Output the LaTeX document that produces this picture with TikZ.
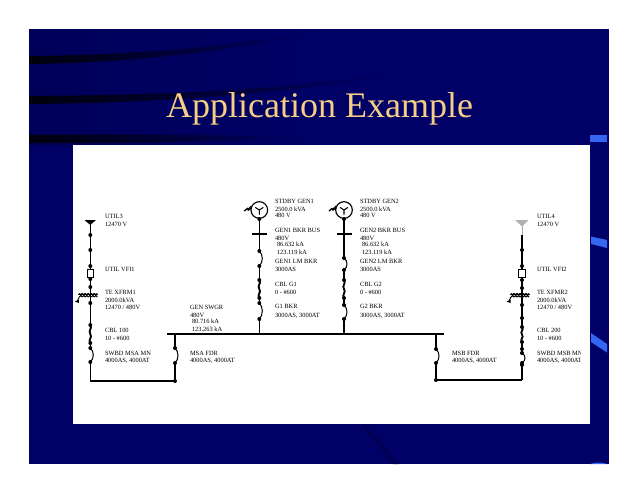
\documentclass[tikz,border=0pt]{standalone}
\usepackage{fontspec}
\usetikzlibrary{calc}
\setmainfont{Liberation Serif}
\definecolor{slidenavy}{HTML}{000066}
\definecolor{slideleft}{HTML}{00005A}
\definecolor{slideblack}{HTML}{00000C}
\definecolor{slidemid}{HTML}{00002E}
\definecolor{titlegold}{HTML}{F6CE84}
\definecolor{accentblue}{HTML}{3566F0}
\tikzset{
  lbl/.style={anchor=west,inner sep=0pt,outer sep=0pt,text=black,font=\fontsize{4.8}{5}\selectfont},
  jn/.style={circle,fill=black,inner sep=0pt,minimum size=3pt},
  wire/.style={line width=0.95pt,black},
  busbar/.style={line width=0.85pt,black},
  vfibox/.style={draw=black,fill=white,line width=0.65pt,minimum width=5pt,minimum height=6pt,inner sep=0pt},
  stripe/.style={left color=slideblack,middle color=slidemid,right color=slidenavy,draw=none},
  accent/.style={fill=accentblue,draw=none},
  arcw/.style={line width=0.75pt,black},
  coilw/.style={line width=1.4pt,black},
  thinw/.style={line width=0.5pt,black},
}
% breaker between two named junctions: #1 top, #2 bottom
\newcommand{\brkarc}[2]{\draw[arcw] (#1) .. controls ($(#1)!0.25!(#2)+(4,0)$) and ($(#1)!0.75!(#2)+(4,0)$) .. (#2);}
% cable symbol between two named junctions
\newcommand{\cablesym}[2]{\draw[coilw] (#1) .. controls ($(#1)!0.2!(#2)+(2.4,0)$) and ($(#1)!0.3!(#2)+(-2.4,0)$) .. ($(#1)!0.5!(#2)$) .. controls ($(#1)!0.7!(#2)+(2.4,0)$) and ($(#1)!0.8!(#2)+(-2.4,0)$) .. (#2);}
% transformer at coordinate #1
\newcommand{\xfmr}[1]{%
  \begin{scope}[shift={(#1)}]
    \draw[thinw] (-12,3.8) -- (7.5,3.8);
    \foreach \i in {-11,-8,-5,-2,1,4}{\draw[line width=0.8pt,black] (\i,2.4) arc[start angle=180,end angle=0,radius=1.5];}
    \foreach \i in {-11,-8,-5,-2,1,4}{\draw[line width=0.8pt,black] (\i,6) arc[start angle=180,end angle=360,radius=1.5];}
    \draw[line width=0.7pt,black] (-11,6) -- (-13,10);
    \fill[black] (-15.5,10.5) -- (-11.5,8.8) -- (-11.5,12) -- cycle;
  \end{scope}}
% generator with centre #1
\newcommand{\gensym}[1]{%
  \node[circle,draw=black,line width=0.85pt,minimum size=12.5pt,inner sep=0pt] (#1c) at (#1) {};
  \draw[line width=0.8pt] (#1) -- ++(0,4.5) (#1) -- ++(-4,-2.6) (#1) -- ++(4,-2.6);
  \draw[line width=1pt] ($(#1)+(-8,-2)$) -- ++(-3,2) -- ++(-1,-1.5) -- ++(-3,2.5);
  \draw[line width=0.8pt] ($(#1)+(-8,-4)$) -- ++(-3,3);
}
\begin{document}
\begin{tikzpicture}[x=0.75pt,y=-0.75pt]
\useasboundingbox (0,0) rectangle (638,493);
\fill[white] (0,0) rectangle (638,493);
% slide background
\fill[slidenavy] (29,29) rectangle (609,464);
\shade[left color=slideleft,right color=slidenavy] (29,29) rectangle (330,145);
\path[stripe] (29,56) .. controls (140,55) and (250,45) .. (320,29) .. controls (260,48) and (140,63) .. (29,64) -- cycle;
\path[stripe] (29,96) .. controls (170,95) and (280,90) .. (410,72) .. controls (290,93) and (170,103) .. (29,104) -- cycle;
\path[stripe] (29,135) .. controls (120,134) and (220,134) .. (310,138) .. controls (220,142) and (120,144) .. (29,143) -- cycle;
\fill[slidemid!35!slidenavy] (361,424) -- (365,424) -- (399,464) -- (393,464) -- cycle;
% accents
\path[accent] (590,135) rectangle (607,142);
\path[accent] (591,236.5) -- (607,240) -- (607,248) -- (591,244) -- cycle;
\path[accent] (591,333) -- (607,344) -- (607,352.5) -- (591,342) -- cycle;
\path[accent] (590,464) .. controls (595,462) and (602,462) .. (607,464) -- cycle;
% title
\node[anchor=base,inner sep=0pt,text=titlegold,font=\fontsize{27}{30}\selectfont] (title) at (319.5,117) {Application Example};
% panel
\fill[white] (72.5,145) rectangle (589.5,424);

% ---- main bus
\coordinate (busL) at (167,334);
\coordinate (busR) at (444,334);
\draw[busbar] (busL) -- (busR);

% ---- left utility column
\foreach \n/\y in {a1/224,a2/235,a3/250,a4/266,a5/279,a6/287,a7/303,a8/325,a9/343,a10/348,a11/362,a12/367}{\coordinate (\n) at (90.3,\y);}
\coordinate (a13) at (90.3,381);
\node[vfibox] (vfiA) at (90.3,273) {};
\fill[black] (84.5,220) -- (96,220) -- (90.3,225) -- cycle;
\draw[wire] (a1) -- (a4) -- (vfiA) (vfiA) -- (a6) (a7) -- (a8) (a9) -- (a10) (a11) -- (a13);
\draw[wire] (a6) -- (a7);
\foreach \n in {a2,a3,a4,a5,a6,a7,a8,a9,a10,a11}{\node[jn] at (\n) {};}
\cablesym{a8}{a9}
\brkarc{a10}{a11}
\xfmr{90.3,291}

% ---- MSA feeder
\coordinate (f0) at (175,334);
\coordinate (f1) at (175,348);
\coordinate (f2) at (175,363);
\coordinate (f3) at (175,381);
\draw[wire] (f0) -- (f1) (f2) -- (f3);
\node[jn] at (f1) {};\node[jn] at (f2) {};\node[jn] at (f3) {};
\brkarc{f1}{f2}
\draw[wire] (a13) -- (f3);

% ---- generator 1
\coordinate (gA) at (259.3,210);
\gensym{gA}
\foreach \n/\y in {p1/219,p2/234,p3/251,p4/266,p5/280,p6/298,p7/303,p8/319}{\coordinate (\n) at (259.3,\y);}
\coordinate (p0) at (259.3,334);
\coordinate (pb1) at (252,234);\coordinate (pb2) at (267,234);
\draw[wire] (gAc) -- (p3) (p4) -- (p5) (p6) -- (p7) (p8) -- (p0);
\draw[line width=1.1pt] (pb1) -- (pb2);
\foreach \n in {p1,p3,p4,p5,p6,p7,p8}{\node[jn] at (\n) {};}
\brkarc{p3}{p4}\cablesym{p5}{p6}\brkarc{p7}{p8}

% ---- generator 2
\coordinate (gB) at (344,210);
\gensym{gB}
\foreach \n/\y in {q1/219,q2/234,q3/258,q4/270,q5/280,q6/298,q7/305,q8/319}{\coordinate (\n) at (344,\y);}
\coordinate (q0) at (344,334);
\coordinate (qb1) at (336.5,234);\coordinate (qb2) at (352,234);
\draw[wire] (gBc) -- (q3) (q4) -- (q5) (q6) -- (q7) (q8) -- (q0);
\draw[line width=1.1pt] (qb1) -- (qb2);
\foreach \n in {q1,q3,q4,q5,q6,q7,q8}{\node[jn] at (\n) {};}
\brkarc{q3}{q4}\cablesym{q5}{q6}\brkarc{q7}{q8}

% ---- MSB feeder
\coordinate (h0) at (436,334);
\coordinate (h1) at (436,349);
\coordinate (h2) at (436,363);
\coordinate (h3) at (436,380);
\draw[wire] (h0) -- (h1) (h2) -- (h3);
\node[jn] at (h1) {};\node[jn] at (h2) {};\node[jn] at (h3) {};
\brkarc{h1}{h2}

% ---- right utility column
\foreach \n/\y in {b1/226,b2/235,b3/250,b4/266,b5/280,b6/288,b7/305,b8/318,b9/327,b10/342,b11/349,b12/353,b13/363,b14/365}{\coordinate (\n) at (522,\y);}
\coordinate (b15) at (522,380);
\node[vfibox] (vfiB) at (522,273.5) {};
\fill[black!30] (515,220) -- (528.5,220) -- (522,226.5) -- cycle;
\draw[black!35,line width=0.7pt] (b1) -- (b2);
\draw[wire] (b2) -- (b4) -- (vfiB) (vfiB) -- (b6) (b6) -- (b7) -- (b9) (b10) -- (b12) (b13) -- (b15);
\foreach \n in {b3,b4,b5,b6,b7,b8,b9,b10,b11,b12,b13,b14}{\node[jn] at (\n) {};}
\cablesym{b9}{b10}
\brkarc{b12}{b13}
\xfmr{522,291}
\draw[wire] (h3) -- (b15);

% ---- labels
\foreach \t/\x/\y/\nm in {
  UTIL3/105/216/t1,12470 V/105/224/t2,UTIL VFI1/105/269/t3,TE XFRM1/105/292/t4,2000.0kVA/105/300/t5,{12470 / 480V}/105/307/t6,CBL 100/105/330/t7,10 - \#600/105/338/t8,SWBD MSA MN/105/353/t9,{4000AS, 4000AT}/105/361/t10,
  GEN SWGR/190/307/t11,480V/190/315/t12,80.716 kA/192/321/t13,123.263 kA/192/329/t14,MSA FDR/190/353/t15,{4000AS, 4000AT}/190/361/t16,
  STDBY GEN1/275/201/t17,2500.0 kVA/275/209/t18,480 V/275/215/t19,GEN1 BKR BUS/275/230/t20,480V/275/238/t21,86.632 kA/277/244/t22,123.119 kA/277/252/t23,GEN1 LM BKR/275/261/t24,3000AS/275/269/t25,CBL G1/275/284/t26,0 - \#600/275/292/t27,G1 BKR/275/306/t28,{3000AS, 3000AT}/275/316/t29,
  STDBY GEN2/360/201/t30,2500.0 kVA/360/209/t31,480 V/360/215/t32,GEN2 BKR BUS/360/230/t33,480V/360/238/t34,86.632 kA/362/244/t35,123.119 kA/362/252/t36,GEN2 LM BKR/360/261/t37,3000AS/360/269/t38,CBL G2/360/284/t39,0 - \#600/360/292/t40,G2 BKR/360/306/t41,{3000AS, 3000AT}/360/316/t42,
  MSB FDR/452/353/t43,{4000AS, 4000AT}/452/361/t44,
  UTIL4/537/216/t45,12470 V/537/224/t46,UTIL VFI2/537/269/t47,TE XFMR2/537/292/t48,2000.0kVA/537/300/t49,{12470 / 480V}/537/307/t50,CBL 200/537/330/t51,10 - \#600/537/338/t52}
  {\node[lbl] (\nm) at (\x,\y) {\t};}
\begin{scope}
  \clip (530,345) rectangle (580.5,366);
  \node[lbl] (t53) at (537,353) {SWBD MSB MN};
  \node[lbl] (t54) at (537,361) {4000AS, 4000AT};
\end{scope}
\end{tikzpicture}
\end{document}
